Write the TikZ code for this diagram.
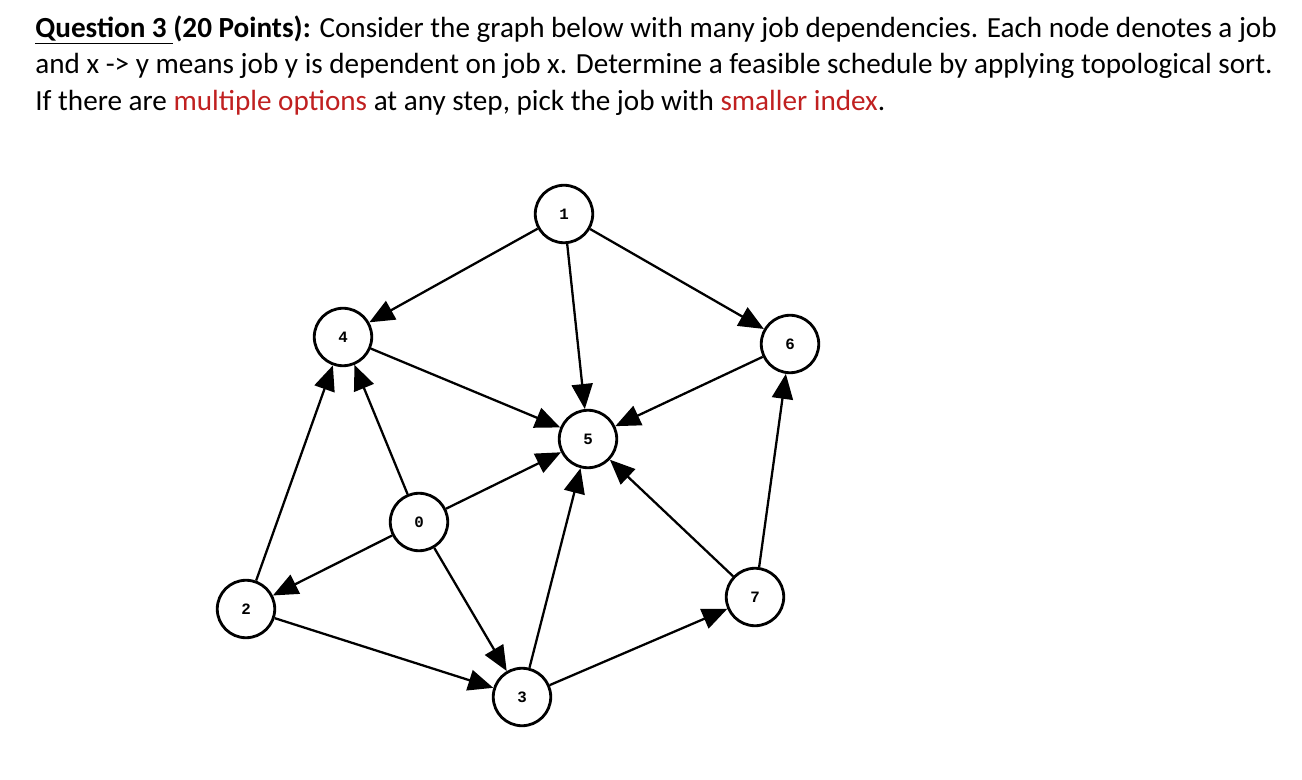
\documentclass[tikz,border=0pt]{standalone}
\usepackage{fontspec}
\setmainfont{Carlito}
\newfontfamily\numfont{Liberation Mono}
\usetikzlibrary{arrows.meta}
\definecolor{redt}{RGB}{192,32,32}
\begin{document}
\begin{tikzpicture}[x=0.02cm,y=-0.02cm,
  job/.style={circle,draw,line width=1.6pt,minimum size=1.15cm,inner sep=0pt,font=\numfont\bfseries\small},
  dep/.style={line width=1.3pt,-{Triangle[length=0.5cm,width=0.42cm]}},
  txt/.style={anchor=west,inner sep=0pt,font=\fontsize{16.6}{19}\selectfont}]
\useasboundingbox (0,0) rectangle (1302,780);
\node[txt] (l1) at (35,30) {\textbf{\underline{Question 3 }(20 Points):} Consider the graph below with many job dependencies. Each node denotes a job};
\node[txt] (l2) at (35,66) {and x -> y means job y is dependent on job x. Determine a feasible schedule by applying topological sort.};
\node[txt] (l3) at (35,103) {If there are \textcolor{redt}{multiple options} at any step, pick the job with \textcolor{redt}{smaller index}.};
\node[job] (n1) at (564,214) {1};
\node[job] (n4) at (343,337) {4};
\node[job] (n6) at (790,344) {6};
\node[job] (n5) at (588,439) {5};
\node[job] (n0) at (419,522) {0};
\node[job] (n2) at (246,609) {2};
\node[job] (n7) at (755,597) {7};
\node[job] (n3) at (522,697) {3};
\foreach \a/\b in {n1/n4,n1/n5,n1/n6,n4/n5,n6/n5,n0/n4,n2/n4,n0/n5,n0/n2,n0/n3,n3/n5,n7/n5,n7/n6,n2/n3,n3/n7}
  \draw[dep] (\a) -- (\b);
\end{tikzpicture}
\end{document}
